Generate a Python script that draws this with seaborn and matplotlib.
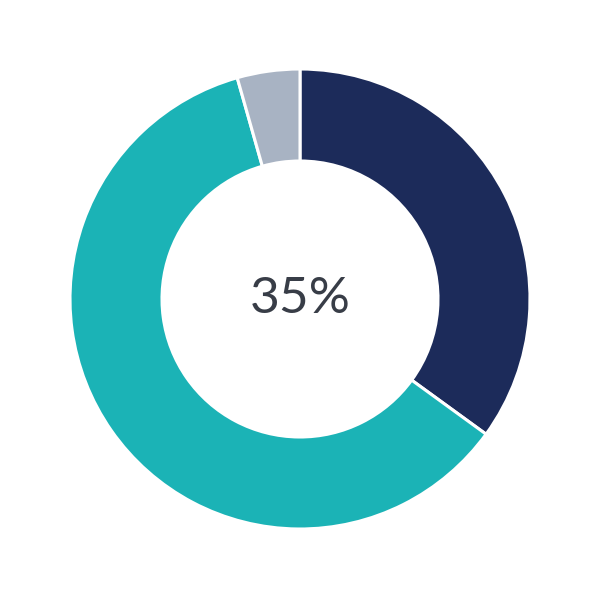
import matplotlib
matplotlib.use("Agg")
import matplotlib.pyplot as plt
import seaborn as sns

categories = ["Segment A", "Segment B", "Segment C"]
values = [35, 60.6, 4.4]
colors = ["#1c2b5a", "#1bb3b6", "#a8b3c3"]
center_label = "35%"

sns.set_theme(style="white")
plt.rcParams['font.family'] = ['Lato', 'DejaVu Sans']
palette = sns.color_palette(colors)

fig = plt.figure(figsize=(6.0, 5.99), dpi=100)
ax = fig.add_axes([0, 0, 1, 1])
R = 230.0
ax.pie(values, colors=palette, startangle=90, counterclock=False, radius=1.0,
       wedgeprops=dict(width=0.40, edgecolor="white", linewidth=2.2))
ax.set_xlim(-300 / R, 300 / R)
ax.set_ylim(-300 / R, 299 / R)
ax.set_aspect("equal")
ax.axis("off")
ax.text(0, 0, center_label, ha="center", va="center", fontsize=37,
        color="#383d47", fontweight="normal")
fig.savefig("out.png", dpi=100)
